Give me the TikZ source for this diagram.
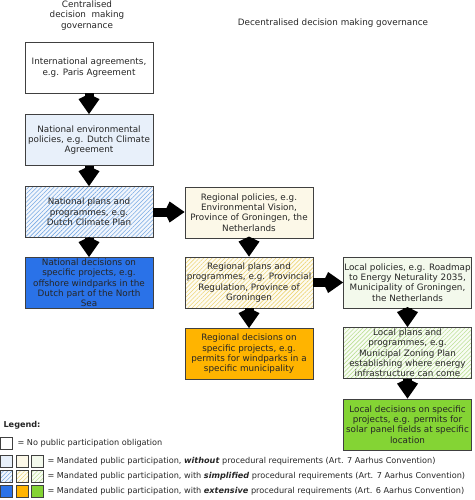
\documentclass[tikz,border=0pt]{standalone}
\usepackage{fontspec}
\setmainfont{DejaVu Sans}
\usetikzlibrary{arrows.meta,patterns.meta}

\definecolor{natblue}{RGB}{42,114,232}
\definecolor{natpale}{RGB}{120,170,228}
\definecolor{regorange}{RGB}{255,180,0}
\definecolor{regpale}{RGB}{238,214,120}
\definecolor{locgreen}{RGB}{132,212,52}
\definecolor{locpale}{RGB}{188,224,150}

\begin{document}
\begin{tikzpicture}[x=1pt,y=-1pt,
  font=\fontsize{8.8}{10.3}\selectfont,
  box/.style={draw=black!75, line width=0.8pt, minimum width=128pt, minimum height=51pt,
    inner xsep=0pt, inner ysep=0pt, align=center, text=black!85},
  dotbox/.style={box, preaction={fill=#1!12}, pattern={Dots[distance=2pt,radius=0.4pt]}, pattern color=#1!70},
  hatchbox/.style={box, preaction={fill=#1!10}, pattern={Lines[angle=45,distance=3pt,line width=0.6pt]}, pattern color=#1},
  fullbox/.style={box, fill=#1},
  key/.style={minimum width=12pt, minimum height=12pt, inner sep=0pt},
  keytext/.style={anchor=west, text=black!85, font=\fontsize{8.15}{10}\selectfont},
  flow/.style={line width=9pt, -{Kite[length=20pt,width=21pt,inset=5pt]}}]

\useasboundingbox (0,0) rectangle (474,500);

\node[align=center, text=black!85] (central) at (87,15.5) {Centralised\\decision\ \ making\\governance};
\node[text=black!85] (decentral) at (333,23) {Decentralised decision making governance};

\node[box, fill=white] (intl) at (89,67.5) {International agreements,\\e.g. Paris Agreement};
\node[dotbox=natpale] (natpol) at (89,140) {National environmental\\policies, e.g. Dutch Climate\\Agreement};
\node[hatchbox=natpale] (natplan) at (89,212) {National plans and\\programmes, e.g.\\Dutch Climate Plan};
\node[fullbox=natblue] (natdec) at (89,283) {National decisions on\\specific projects, e.g.\\offshore windparks in the\\Dutch part of the North\\Sea};

\node[dotbox=regpale] (regpol) at (249,212.5) {Regional policies, e.g.\\Environmental Vision,\\Province of Groningen, the\\Netherlands};
\node[hatchbox=regpale] (regplan) at (249,282.5) {Regional plans and\\programmes, e.g. Provincial\\Regulation, Province of\\Groningen};
\node[fullbox=regorange] (regdec) at (249,354) {Regional decisions on\\specific projects, e.g.\\permits for windparks in a\\specific municipality};

\node[dotbox=locpale] (locpol) at (407.5,282.5) {Local policies, e.g. Roadmap\\to Energy Neturality 2035,\\Municipality of Groningen,\\the Netherlands};
\node[hatchbox=locpale] (locplan) at (407.5,353) {Local plans and\\programmes, e.g.\\Municipal Zoning Plan\\establishing where energy\\infrastructure can come};
\node[fullbox=locgreen] (locdec) at (407.5,424.5) {Local decisions on specific\\projects, e.g. permits for\\solar panel fields at specific\\location};

\draw[flow] (intl.south) -- (natpol.north);
\draw[flow] (natpol.south) -- (natplan.north);
\draw[flow] (natplan.south) -- (natdec.north);
\draw[flow] (natplan.east) -- (regpol.west |- natplan.east);
\draw[flow] (regpol.south) -- (regplan.north);
\draw[flow] (regplan.south) -- (regdec.north);
\draw[flow] (regplan.east) -- (locpol.west);
\draw[flow] (locpol.south) -- (locplan.north);
\draw[flow] (locplan.south) -- (locdec.north);

\node[keytext, font=\fontsize{8.15}{10}\selectfont\bfseries] (legend) at (0,425) {Legend:};

\node[box, key, fill=white] (k0) at (6,443.5) {};
\node[keytext] (t0) at (14,443.5) {= No public participation obligation};

\node[dotbox=natpale, key] (k1a) at (6,461) {};
\node[dotbox=regpale, key] (k1b) at (22,461) {};
\node[dotbox=locpale, key] (k1c) at (37.5,461) {};
\node[keytext] (t1) at (44,461) {= Mandated public participation, \textbf{\textit{without}} procedural requirements (Art. 7 Aarhus Convention)};

\node[hatchbox=natpale, key] (k2a) at (6,476.5) {};
\node[hatchbox=regpale, key] (k2b) at (22,476.5) {};
\node[hatchbox=locpale, key] (k2c) at (37.5,476.5) {};
\node[keytext] (t2) at (44,476.5) {= Mandated public participation, with \textbf{\textit{simplified}} procedural requirements (Art. 7 Aarhus Convention)};

\node[fullbox=natblue, key] (k3a) at (6,491) {};
\node[fullbox=regorange, key] (k3b) at (22,491) {};
\node[fullbox=locgreen, key] (k3c) at (37.5,491) {};
\node[keytext] (t3) at (44,491) {= Mandated public participation, with \textbf{\textit{extensive}} procedural requirements (Art. 6 Aarhus Convention)};

\end{tikzpicture}
\end{document}
